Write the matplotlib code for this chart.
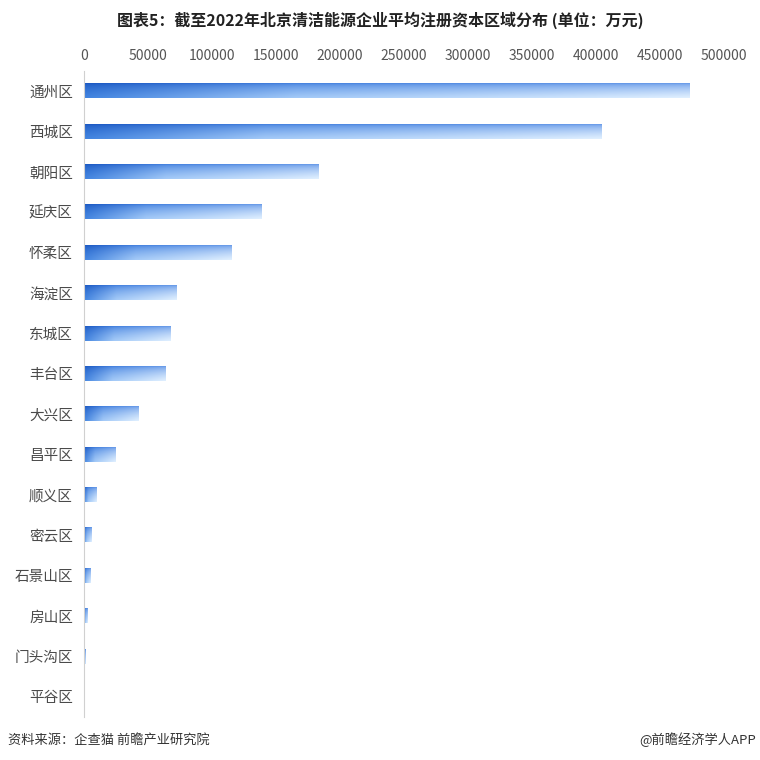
import numpy as np
import matplotlib.pyplot as plt

plt.rcParams['font.family'] = ['Noto Sans CJK SC', 'DejaVu Sans']

# data (万元)
districts = ['通州区', '西城区', '朝阳区', '延庆区', '怀柔区', '海淀区', '东城区', '丰台区',
             '大兴区', '昌平区', '顺义区', '密云区', '石景山区', '房山区', '门头沟区', '平谷区']
capital = [473000, 404000, 183000, 139000, 115000, 72000, 67500, 63500,
           42500, 25000, 9500, 5500, 4700, 3100, 800, 150]
xticks = list(range(0, 500001, 50000))

title = '图表5：截至2022年北京清洁能源企业平均注册资本区域分布 (单位：万元)'
source = '资料来源：企查猫 前瞻产业研究院'
brand = '@前瞻经济学人APP'

# gradient image for the bars: dark blue on the left to pale blue on the right,
# darker along the top edge and lighter toward the bottom
t = np.linspace(0, 1, 256)
stops_t = [0.0, 0.35, 1.0]
top_c = np.array([[0.10, 0.34, 0.76], [0.26, 0.50, 0.87], [0.40, 0.60, 0.91]])
bot_c = np.array([[0.26, 0.52, 0.88], [0.64, 0.79, 0.97], [0.88, 0.94, 1.00]])
top_row = np.stack([np.interp(t, stops_t, top_c[:, k]) for k in range(3)], axis=1)
bot_row = np.stack([np.interp(t, stops_t, bot_c[:, k]) for k in range(3)], axis=1)
rows = 24
grad = np.zeros((rows, 256, 3))
for r in range(rows):
    f = (r / (rows - 1)) ** 0.6
    grad[r] = top_row * (1 - f) + bot_row * f

fig = plt.figure(figsize=(7.6, 7.6), dpi=100)
ax = fig.add_axes([84 / 760, 1 - 717 / 760, 640 / 760, 646 / 760])

h = 0.35
for i, v in enumerate(capital):
    ax.imshow(grad, extent=[0, v, i + h / 2, i - h / 2], aspect='auto',
              interpolation='bilinear', zorder=2)

ax.set_xlim(0, 500000)
ax.set_ylim(len(districts) - 0.5, -0.5)
ax.set_yticks(range(len(districts)))
ax.set_yticklabels(districts, fontsize=10.5, color='#4a4a4a')
ax.xaxis.tick_top()
ax.set_xticks(xticks)
ax.set_xticklabels([str(x) for x in xticks], fontsize=10, color='#555555')
ax.tick_params(axis='both', length=0, pad=8)
ax.tick_params(axis='x', pad=6)
for s in ['top', 'right', 'bottom']:
    ax.spines[s].set_visible(False)
ax.spines['left'].set_color('#d0d0d0')
ax.spines['left'].set_linewidth(0.8)

fig.text(0.5, 1 - 20 / 760, title, ha='center', va='center', fontsize=11.5,
         fontweight='bold', color='#222222')
fig.text(8 / 760, 1 - 740 / 760, source, ha='left', va='center', fontsize=9.5, color='#333333')
fig.text(756 / 760, 1 - 740 / 760, brand, ha='right', va='center', fontsize=9.5, color='#333333')

fig.savefig('out.png', dpi=100)
